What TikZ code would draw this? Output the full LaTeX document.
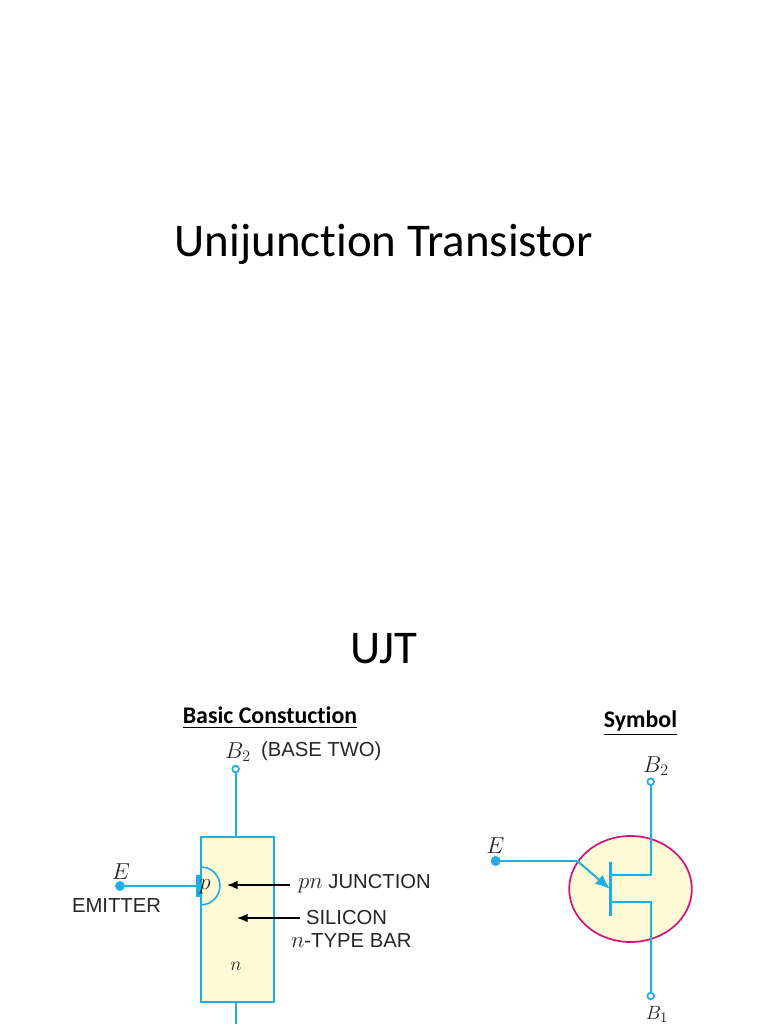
\documentclass[tikz,border=0pt]{standalone}
\usepackage{amsmath}
\usepackage{fontspec}
\setmainfont[Ligatures=NoCommon]{Carlito}
\newfontfamily\labelfont{Liberation Sans}
\usetikzlibrary{shapes.geometric}
\usetikzlibrary{arrows.meta}
\usetikzlibrary{positioning}
\definecolor{wire}{HTML}{1DAEE5}
\definecolor{barfill}{HTML}{FFFBD6}
\definecolor{ringcol}{HTML}{D4147C}
\tikzset{>={Latex[length=8pt,width=6.5pt]}, x=0.75pt, y=-0.75pt, inner sep=0pt, outer sep=0pt}
\tikzstyle{title} = [font=\fontsize{35.2}{35.2}\selectfont]
\tikzstyle{heading} = [font=\fontsize{17.9}{17.9}\selectfont\bfseries]
\tikzstyle{tag} = [font=\fontsize{15.2}{15.2}\selectfont\labelfont, text=black!85]
\tikzstyle{sym} = [font=\fontsize{16.5}{16.5}\selectfont, text=black!85]
\tikzstyle{small sym} = [font=\fontsize{13.5}{13.5}\selectfont, text=black!85]
\tikzstyle{line} = [draw=wire, line width=1.5pt]
\tikzstyle{pointer} = [draw=black, line width=1.1pt, ->]
\tikzstyle{bar} = [draw=wire, fill=barfill, line width=1.7pt, rectangle, minimum width=54.5pt, minimum height=124pt]
\tikzstyle{ring} = [draw=ringcol, fill=barfill, line width=1.3pt, ellipse, minimum width=92pt, minimum height=79.5pt]
\tikzstyle{dot} = [draw=wire, fill=wire, circle, minimum size=7pt]
\tikzstyle{term} = [draw=wire, fill=white, line width=1.3pt, circle, minimum size=5pt]
\newcommand{\tagmath}[1]{{\fontsize{18}{18}\selectfont$#1$}}
\begin{document}
\begin{tikzpicture}
	\useasboundingbox (0,0) rectangle (768,1024);

	\node [title] (title) at (384,244) {Unijunction Transistor};
	\node [title] (ujt) at (384,649) {UJT};

	% construction
	\node [heading] (h_basic) at (270,718) {\underline{Basic Constuction}};
	\node [bar] (bar) at (237.5,919.5) {};
	\node [term] (b2) at (235.6,769) {};
	\node [dot] (e) at (120,886) {};
	\coordinate (b1_end) at (235.6,1024);
	\coordinate (bar_t) at (235.6,837);
	\coordinate (bar_b) at (235.6,1002);
	\coordinate (pn_top) at (201,867);
	\coordinate (plate_t) at (198.5,875);
	\coordinate (plate_b) at (198.5,897);
	\coordinate (plate) at (196,886);

	\draw [line] (b2) -- (bar_t);
	\draw [line] (bar_b) -- (b1_end);
	\draw [line] (e) -- (plate);
	\draw [draw=wire, line width=3.6pt] (plate_t) -- (plate_b);
	\draw [draw=wire, line width=1.2pt] (pn_top) arc [start angle=90, end angle=-90, radius=14.2pt];

	\node [sym] (lab_p) at (205,887) {$p$};
	\node [small sym] (lab_n) at (236,966) {$n$};
	\node [sym] (lab_e) at (121,872) {$E$};
	\node [sym] (lab_b2) at (238,752) {$B_2$};
	\node [tag, anchor=west] (lab_base) at (261,751) {(BASE TWO)};
	\node [tag, anchor=west] (lab_emit) at (72,906) {EMITTER};
	\node [tag, anchor=west] (lab_pn) at (298,884) {\tagmath{pn} JUNCTION};
	\node [tag, anchor=west] (lab_si) at (306,918) {SILICON};
	\node [tag, anchor=west] (lab_bar) at (291,941) {\tagmath{n}-TYPE BAR};

	\coordinate (tip_pn) at (227,885);
	\coordinate (tip_si) at (237,918);
	\coordinate (from_pn) at (290,885);
	\coordinate (from_si) at (300,918);
	\draw [pointer] (from_pn) -- (tip_pn);
	\draw [pointer] (from_si) -- (tip_si);

	% symbol
	\node [heading] (h_sym) at (640.5,723) {\underline{Symbol}};
	\node [ring] (ring) at (630.5,889) {};
	\node [term] (s_b2) at (650.7,781.7) {};
	\node [term] (s_b1) at (650.7,996) {};
	\node [dot] (s_e) at (495.7,861) {};
	\coordinate (s_knee) at (577.3,861);
	\coordinate (s_tip) at (610,889);
	\coordinate (s_top) at (610.3,862);
	\coordinate (s_bot) at (610.3,916);
	\coordinate (s_up) at (610.3,875);
	\coordinate (s_low) at (610.3,901.7);

	\draw [line] (s_b2) |- (s_up);
	\draw [line] (s_b1) |- (s_low);
	\draw [draw=wire, line width=2.6pt] (s_top) -- (s_bot);
	\draw [line] (s_e) -- (s_knee);
	\draw [line, -{Latex[length=11pt,width=9pt]}] (s_knee) -- (s_tip);

	\node [sym] (s_lab_e) at (495.5,846) {$E$};
	\node [sym] (s_lab_b2) at (656,766) {$B_2$};
	\node [font=\fontsize{15}{15}\selectfont, text=black!85] (s_lab_b1) at (657,1014.5) {$B_1$};
\end{tikzpicture}
\end{document}
